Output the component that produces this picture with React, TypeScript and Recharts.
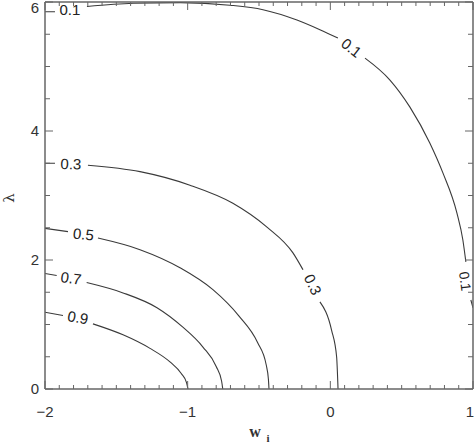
import React from 'react';
import { LineChart, Line, XAxis, YAxis, ReferenceDot, Customized } from 'recharts';

// axis ticks (majors get labels)
const X_TICKS = [
    -2, -1.9, -1.8, -1.7, -1.6, -1.5, -1.4, -1.3, -1.2, -1.1,
    -1, -0.9, -0.8, -0.7, -0.6, -0.5, -0.4, -0.3, -0.2, -0.1,
    0, 0.1, 0.2, 0.3, 0.4, 0.5, 0.6, 0.7, 0.8, 0.9, 1,
];
const X_MAJOR = [-2, -1, 0, 1];
const Y_TICKS = [0, 0.5, 1, 1.5, 2, 2.5, 3, 3.5, 4, 4.5, 5, 5.5, 6];
const Y_MAJOR = [0, 2, 4, 6];

// contour lines, y = null leaves the gap where the label sits
const C01 = [
    { x: -2, y: 5.85 }, { x: -1.93, y: 5.85 }, { x: -1.82, y: null },
    { x: -1.706, y: 5.93 }, { x: -1.383, y: 5.98 }, { x: -1.05, y: 5.99 },
    { x: -0.704, y: 5.95 }, { x: -0.472, y: 5.88 }, { x: -0.234, y: 5.72 },
    { x: -0.073, y: 5.57 }, { x: 0.053, y: 5.44 }, { x: 0.15, y: null },
    { x: 0.243, y: 5.13 }, { x: 0.418, y: 4.79 }, { x: 0.558, y: 4.37 },
    { x: 0.698, y: 3.81 }, { x: 0.789, y: 3.35 }, { x: 0.887, y: 2.73 },
    { x: 0.929, y: 2.31 }, { x: 0.95, y: 1.97 }, { x: 0.97, y: null },
    { x: 0.985, y: 1.38 }, { x: 1.0, y: 1.26 },
];
const C03 = [
    { x: -2, y: 3.5 }, { x: -1.93, y: 3.5 }, { x: -1.82, y: null },
    { x: -1.699, y: 3.47 }, { x: -1.334, y: 3.37 }, { x: -0.984, y: 3.16 },
    { x: -0.683, y: 2.88 }, { x: -0.444, y: 2.51 }, { x: -0.262, y: 2.11 },
    { x: -0.192, y: 1.85 }, { x: -0.13, y: null },
    { x: -0.073, y: 1.35 }, { x: 0.009, y: 0.91 }, { x: 0.044, y: 0.5 }, { x: 0.054, y: 0 },
];
const C05 = [
    { x: -2, y: 2.49 }, { x: -1.839, y: 2.44 }, { x: -1.73, y: null },
    { x: -1.629, y: 2.34 }, { x: -1.334, y: 2.16 }, { x: -1.054, y: 1.88 },
    { x: -0.823, y: 1.54 }, { x: -0.64, y: 1.13 }, { x: -0.51, y: 0.72 },
    { x: -0.45, y: 0.38 }, { x: -0.434, y: 0.15 }, { x: -0.43, y: 0 },
];
const C07 = [
    { x: -2, y: 1.79 }, { x: -1.918, y: 1.76 }, { x: -1.81, y: null },
    { x: -1.708, y: 1.65 }, { x: -1.453, y: 1.49 }, { x: -1.215, y: 1.26 },
    { x: -1.04, y: 0.97 }, { x: -0.893, y: 0.65 }, { x: -0.8, y: 0.35 },
    { x: -0.762, y: 0.12 }, { x: -0.754, y: 0 },
];
const C09 = [
    { x: -2, y: 1.19 }, { x: -1.874, y: 1.14 }, { x: -1.77, y: null },
    { x: -1.664, y: 1.01 }, { x: -1.453, y: 0.84 }, { x: -1.264, y: 0.63 },
    { x: -1.124, y: 0.42 }, { x: -1.045, y: 0.24 }, { x: -1.008, y: 0.1 },
    { x: -0.998, y: 0 },
];
const CONTOURS = [C01, C03, C05, C07, C09];

// contour labels (text, x, lambda)
const LABELS = [
    { text: '0.1', x: -1.825, y: 5.88 },
    { text: '0.1', x: 0.148, y: 5.29 },
    { text: '0.1', x: 0.946, y: 1.67 },
    { text: '0.3', x: -1.818, y: 3.49 },
    { text: '0.3', x: -0.122, y: 1.62 },
    { text: '0.5', x: -1.73, y: 2.4 },
    { text: '0.7', x: -1.818, y: 1.72 },
    { text: '0.9', x: -1.769, y: 1.11 },
];
const LABEL_ANGLES = [0, 38, 83, 2, 65, 6, 8, 10];

const FONT = '"Liberation Sans", Arial, Helvetica, sans-serif';
const AXIS = '#666';
const INK = '#333';

const fmt = (v: number) => (v < 0 ? '\u2212' + Math.abs(v) : String(v));
const near = (list: number[], v: number) => list.some(m => Math.abs(m - v) < 1e-6);

const BottomTick = (p: any) => {
    const v = p.payload.value;
    const major = near(X_MAJOR, v);
    const len = major ? 8 : 4;
    const last = v === 1;
    return (
        <g>
            <line x1={p.x} y1={p.y} x2={p.x} y2={p.y - len} stroke={AXIS} strokeWidth={1} />
            {major && (
                <text x={last ? p.x + 1 : p.x} y={p.y + 23} dy="0.36em" textAnchor={last ? 'end' : 'middle'}
                    fontSize={15} fontFamily={FONT} fill={INK}>
                    {fmt(v)}
                </text>
            )}
        </g>
    );
};

const TopTick = (p: any) => {
    const len = near(X_MAJOR, p.payload.value) ? 8 : 4;
    return <line x1={p.x} y1={p.y} x2={p.x} y2={p.y + len} stroke={AXIS} strokeWidth={1} />;
};

const LeftTick = (p: any) => {
    const major = near(Y_MAJOR, p.payload.value);
    const len = major ? 8 : 5;
    return (
        <g>
            <line x1={p.x} y1={p.y} x2={p.x + len} y2={p.y} stroke={AXIS} strokeWidth={1} />
            {major && (
                <text x={p.x - 6} y={Math.max(p.y, 8)} dy="0.36em" textAnchor="end" fontSize={15} fontFamily={FONT} fill={INK}>
                    {fmt(p.payload.value)}
                </text>
            )}
        </g>
    );
};

const RightTick = (p: any) => {
    const len = near(Y_MAJOR, p.payload.value) ? 8 : 5;
    return <line x1={p.x} y1={p.y} x2={p.x - len} y2={p.y} stroke={AXIS} strokeWidth={1} />;
};

const Titles = () => (
    <g>
        <text x={9} y={198} dy="0.35em" textAnchor="middle" fontSize={15} fontFamily='"DejaVu Serif", serif'
            fill={INK} transform="rotate(-90 9 198)">λ</text>
        <text x={255} y={437} textAnchor="middle" fontSize={16} fontWeight="bold"
            fontFamily='"Liberation Serif", "Times New Roman", serif' fill={INK}>w</text>
        <text x={268} y={442} textAnchor="middle" fontSize={11} fontWeight="bold"
            fontFamily='"Liberation Serif", "Times New Roman", serif' fill={INK}>i</text>
    </g>
);

export default function App() {
    return (
        <div style={{ position: 'absolute', left: 0, top: 0, background: '#fff' }}>
            <LineChart width={474} height={445} margin={{ top: 1, right: 0, bottom: 0, left: 0 }}>
                <XAxis
                    xAxisId="b" type="number" dataKey="x" domain={[-2, 1]} allowDataOverflow
                    ticks={X_TICKS} interval={0} height={56} tickSize={0} tickMargin={0}
                    tickLine={false} axisLine={{ stroke: AXIS, strokeWidth: 1.5 }} tick={BottomTick}
                />
                <XAxis
                    xAxisId="t" orientation="top" type="number" dataKey="x" domain={[-2, 1]} allowDataOverflow
                    ticks={X_TICKS} interval={0} height={1} tickSize={0} tickMargin={0}
                    tickLine={false} axisLine={{ stroke: AXIS, strokeWidth: 1.5 }} tick={TopTick}
                />
                <YAxis
                    yAxisId="l" type="number" domain={[0, 6]} allowDataOverflow
                    ticks={Y_TICKS} interval={0} width={45} tickSize={0} tickMargin={0}
                    tickLine={false} axisLine={{ stroke: AXIS, strokeWidth: 1.5 }} tick={LeftTick}
                />
                <YAxis
                    yAxisId="r" orientation="right" type="number" domain={[0, 6]} allowDataOverflow
                    ticks={Y_TICKS} interval={0} width={1} tickSize={0} tickMargin={0}
                    tickLine={false} axisLine={{ stroke: AXIS, strokeWidth: 1.5 }} tick={RightTick}
                />
                {CONTOURS.map((c, i) => (
                    <Line
                        key={i} data={c} dataKey="y" xAxisId="b" yAxisId="l" type="monotone"
                        stroke="#3a3a3a" strokeWidth={1.1} dot={false} activeDot={false}
                        isAnimationActive={false}
                    />
                ))}
                {LABELS.map((l, i) => (
                    <ReferenceDot
                        key={'lab' + i} x={l.x} y={l.y} xAxisId="b" yAxisId="l" r={0} ifOverflow="visible"
                        shape={(p: any) => (
                            <text x={p.cx} y={p.cy} dy="0.36em" textAnchor="middle" fontSize={i === 2 ? 14 : 15}
                                fontFamily={FONT} fill="#222"
                                transform={`rotate(${LABEL_ANGLES[i]} ${p.cx} ${p.cy})`}>
                                {l.text}
                            </text>
                        )}
                    />
                ))}
                <Customized component={<Titles />} />
            </LineChart>
        </div>
    );
}
